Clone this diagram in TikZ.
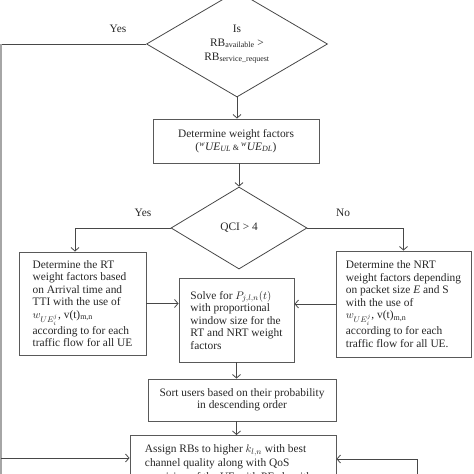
\documentclass[tikz,border=0pt]{standalone}
\usepackage{fontspec}
\setmainfont{Liberation Serif}
\usetikzlibrary{shapes.geometric,arrows.meta}
\begin{document}
\begin{tikzpicture}[x=1pt,y=-1pt,
  font=\fontsize{11.4}{12.5}\selectfont,
  ln/.style={draw=black!72, line width=0.8pt},
  arr/.style={ln, -{Straight Barb[length=3.5pt,width=8pt,line width=0.8pt]}},
  box/.style={draw=black!65, line width=0.9pt, inner sep=0pt, align=left, text=black!85},
  dec/.style={diamond, shape aspect=1.7, draw=black!72, line width=0.8pt, inner sep=0pt, align=center, text=black!85},
  lab/.style={inner sep=0pt, text=black!85}]
\useasboundingbox (0,0) rectangle (474,474);
\clip (0,0) rectangle (474,474);

% top decision
\node[dec, minimum width=181pt, minimum height=106pt] (top) at (237,44)
  {Is\\[1.5pt]RB\textsubscript{available} >\\[1.5pt]RB\textsubscript{service\_request}};
\node[lab] (yes1) at (118,29) {Yes};
\coordinate (lt) at (0.8,44);
\coordinate (lb) at (0.8,474);
\coordinate (la) at (0.8,458);
\draw[ln] (top.west) -- (0,44);
\draw[draw=black!35, line width=1.6pt] (lt) -- (lb);

% weight factors
\node[box, align=center, minimum width=166pt, minimum height=44pt] (wf) at (236,141)
  {Determine weight factors\\(\textsuperscript{\textit{w}}\textit{UE}\textsubscript{\textit{UL}}\,{\footnotesize\&}\,\textsuperscript{\textit{w}}\textit{UE}\textsubscript{\textit{DL}})};
\draw[arr] (top.south) -- (top.south |- wf.north);

% QCI decision
\node[dec, minimum width=136pt, minimum height=82pt] (qci) at (239,228) {QCI > 4};
\draw[arr] (qci.north |- wf.south) -- (qci.north);
\node[lab] (yes2) at (143,213) {Yes};
\node[lab] (no) at (343,213) {No};

% RT box
\node[box, minimum width=127pt, minimum height=103pt] (rt) at (82.5,303.5)
  {Determine the RT\\weight factors based\\on Arrival time and\\TTI with the use of\\$w_{UE_{i}^{j}}$, v(t)\textsubscript{m,n}\\according to for each\\traffic flow for all UE};
\coordinate (rtx) at (75,0);
\draw[arr] (qci.west) -| (rtx |- rt.north);

% NRT box
\node[box, minimum width=135pt, minimum height=106pt] (nrt) at (403.5,304)
  {Determine the NRT\\weight factors depending\\on packet size \textit{E} and S\\with the use of\\$w_{UE_{i}^{j}}$, v(t)\textsubscript{m,n}\\according to for each\\traffic flow for all UE.};
\draw[arr] (qci.east) -| (nrt.north);

% middle box
\node[box, minimum width=115pt, minimum height=84pt] (mid) at (236.5,320)
  {Solve for $P_{j,l,n}(t)$\\with proportional\\window size for the\\RT and NRT weight\\factors};
\draw[arr] (rt.east) -- (rt.east -| mid.west);
\draw[arr] (nrt.west) -- (nrt.west -| mid.east);

% sort box
\node[box, align=center, minimum width=188pt, minimum height=42pt] (sort) at (242,400)
  {Sort users based on their probability\\in descending order};
\draw[arr] (mid.south) -- (mid.south |- sort.north);

% assign box
\node[box, anchor=north, minimum width=206pt, inner ysep=9pt] (asg) at (233,435)
  {Assign RBs to higher $k_{l,n}$ with best\\[1.5pt]channel quality along with QoS\\[1.5pt]provision of the UE with PF algorithm};
\draw[arr] (mid.south |- sort.south) -- (mid.south |- asg.north);

\draw[arr] (la) -- (la -| asg.west);
\coordinate (rb) at (417,474);
\coordinate (ra) at (417,459);
\draw[arr] (rb) -- (ra) -- (ra -| asg.east);
\end{tikzpicture}
\end{document}
